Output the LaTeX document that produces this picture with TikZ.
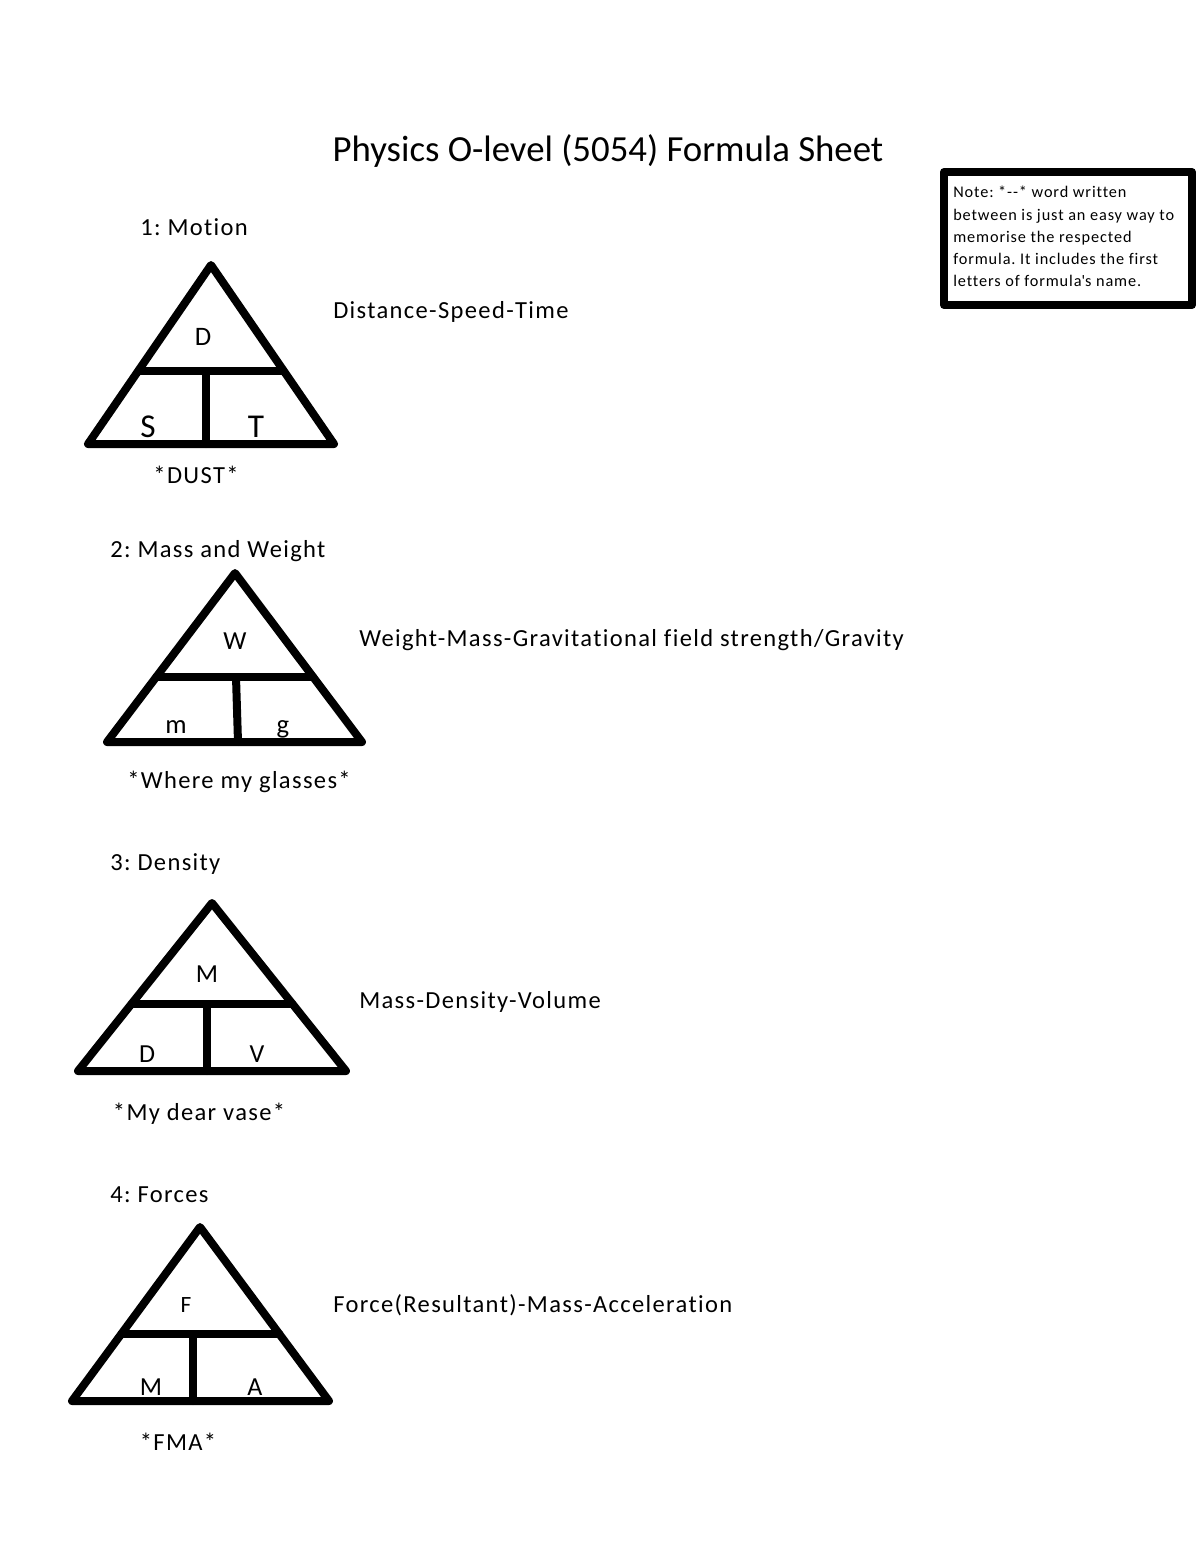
\documentclass[tikz,border=0pt]{standalone}
\usepackage{fontspec}
\setmainfont{Carlito}[Ligatures={NoCommon}]
\newfontfamily\wordfont{Carlito}[Ligatures={NoCommon}, LetterSpace=5.5]
\usetikzlibrary{calc}

\begin{document}
\frenchspacing
\begin{tikzpicture}[x=0.75pt,y=-0.75pt,
  tri/.style={line width=6pt, line join=round, line cap=round},
  notebox/.style={line width=6pt, line join=round},
  title/.style={font=\fontsize{27.6}{30}\selectfont, inner sep=0pt, anchor=base},
  head/.style={font=\wordfont\fontsize{18.4}{22}\selectfont, inner sep=0pt, anchor=base west},
  mnemonic/.style={font=\wordfont\fontsize{18.4}{22}\selectfont, inner sep=0pt, anchor=base}]
\useasboundingbox (0,0) rectangle (1200,1553);

\node[title] (title) at (608,161) {Physics O-level (5054) Formula Sheet};

% note box
\draw[notebox] (944,172) rectangle (1192,305);
\node[font=\wordfont\fontsize{12.2}{16.7}\selectfont, align=left, inner sep=0pt, anchor=north west] (note) at (953,186)
  {Note: *-{}-* word written\\between is just an easy way to\\memorise the respected\\formula. It includes the first\\letters of formula\textquotesingle s name.};

% 1: motion
\node[head] (motion) at (140,235) {1: Motion};
\coordinate (a1) at (211,265);
\coordinate (l1) at (88,444);
\coordinate (r1) at (334,444);
\draw[tri] (a1) -- (r1) -- (l1) -- cycle;
\draw[tri] ($(a1)!0.592!(l1)$) -- ($(a1)!0.592!(r1)$);
\draw[tri] (206,371) -- (206,444);
\node[font=\fontsize{20}{24}\selectfont, anchor=base] (d1) at (203,345) {D};
\node[font=\fontsize{25}{30}\selectfont, anchor=base] (s1) at (148,437) {S};
\node[font=\fontsize{25}{30}\selectfont, anchor=base] (t1) at (256,437) {T};
\node[head] (dst) at (333,318) {Distance-Speed-Time};
\node[mnemonic] (dust) at (196,483) {*DUST*};

% 2: mass and weight
\node[head] (massweight) at (110,557) {2: Mass and Weight};
\coordinate (a2) at (235,573);
\coordinate (l2) at (107,742);
\coordinate (r2) at (362,742);
\draw[tri] (a2) -- (r2) -- (l2) -- cycle;
\draw[tri] ($(a2)!0.615!(l2)$) -- ($(a2)!0.615!(r2)$);
\draw[tri] (236,677) -- (238,742);
\node[font=\fontsize{19.5}{24}\selectfont, anchor=base] (w2) at (235,649) {W};
\node[font=\fontsize{20}{24}\selectfont, anchor=base] (m2) at (176,733) {m};
\node[font=\fontsize{20}{24}\selectfont, anchor=base] (g2) at (283,733) {g};
\node[head] (wmg) at (359,646) {Weight-Mass-Gravitational field strength/Gravity};
\node[mnemonic] (glasses) at (239,788) {*Where my glasses*};

% 3: density
\node[head] (density) at (110,870) {3: Density};
\coordinate (a3) at (212,903);
\coordinate (l3) at (78,1071);
\coordinate (r3) at (346,1071);
\draw[tri] (a3) -- (r3) -- (l3) -- cycle;
\draw[tri] ($(a3)!0.601!(l3)$) -- ($(a3)!0.601!(r3)$);
\draw[tri] (207,1004) -- (207,1071);
\node[font=\fontsize{19.5}{24}\selectfont, anchor=base] (m3) at (207,982) {M};
\node[font=\fontsize{19.5}{24}\selectfont, anchor=base] (d3) at (147,1062) {D};
\node[font=\fontsize{19.5}{24}\selectfont, anchor=base] (v3) at (257,1062) {V};
\node[head] (mdv) at (359,1008) {Mass-Density-Volume};
\node[mnemonic] (vase) at (199,1120) {*My dear vase*};

% 4: forces
\node[head] (forces) at (110,1202) {4: Forces};
\coordinate (a4) at (200,1227);
\coordinate (l4) at (72,1401);
\coordinate (r4) at (329,1401);
\draw[tri] (a4) -- (r4) -- (l4) -- cycle;
\draw[tri] ($(a4)!0.615!(l4)$) -- ($(a4)!0.615!(r4)$);
\draw[tri] (193,1334) -- (193,1401);
\node[font=\fontsize{17.5}{21}\selectfont, anchor=base] (f4) at (186,1312) {F};
\node[font=\fontsize{19.5}{24}\selectfont, anchor=base] (m4) at (151,1395) {M};
\node[font=\fontsize{19.5}{24}\selectfont, anchor=base] (a4l) at (255,1395) {A};
\node[head] (fma) at (333,1312) {Force(Resultant)-Mass-Acceleration};
\node[mnemonic] (fmacap) at (178,1450) {*FMA*};
\end{tikzpicture}
\end{document}
